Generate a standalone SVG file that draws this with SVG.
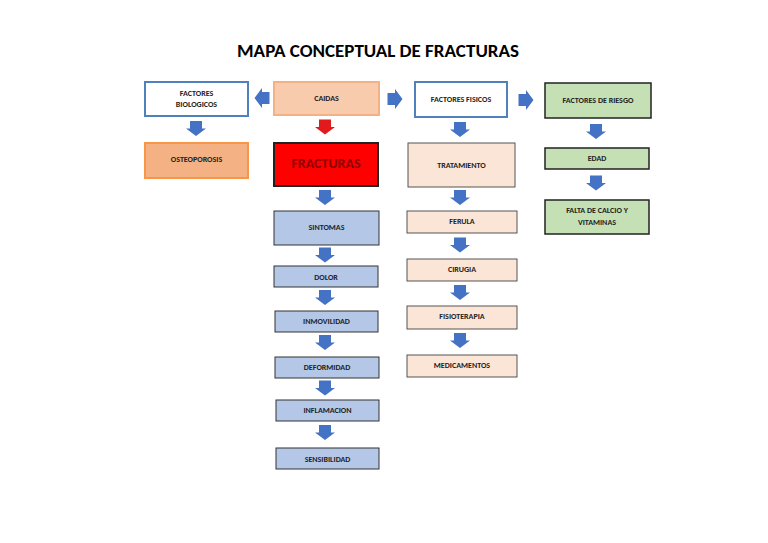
<svg xmlns="http://www.w3.org/2000/svg" xmlns:xlink="http://www.w3.org/1999/xlink" width="768" height="543" viewBox="0 0 768 543">
<style>
text{font-family:Calibri,"Liberation Sans",Arial,sans-serif;font-weight:bold;font-size:8px;fill:#222;text-anchor:middle;dominant-baseline:central}
.wb{fill:#fff;stroke:#4f81bd;stroke-width:2}
.pe{fill:#f8cbad;stroke:#f4b183;stroke-width:2}
.or{fill:#f4b183;stroke:#f79646;stroke-width:2}
.gr{fill:#c5e0b4;stroke:#222;stroke-width:1.5}
.lp{fill:#fbe5d6;stroke:#555;stroke-width:1}
.bl{fill:#b4c7e7;stroke:#333;stroke-width:1}
.rd{fill:#ff0000;stroke:#222;stroke-width:2}
.ar{fill:#4472c4}
</style>
<defs>
<path id="dn" d="M-6,-7.5H6V0H10L0,7.5L-10,0H-6Z"/>
</defs>
<rect width="768" height="543" fill="#fff"/>
<text x="378" y="50" style="font-size:19px;fill:#000">MAPA CONCEPTUAL DE FRACTURAS</text>
<g id="connectors" class="ar">
<use xlink:href="#dn" transform="translate(196,128.5)"/>
<use xlink:href="#dn" transform="translate(325,127)" fill="#e31a1c"/>
<use xlink:href="#dn" transform="translate(460,129.5)"/>
<use xlink:href="#dn" transform="translate(596,131.5)"/>
<use xlink:href="#dn" transform="translate(596,183)"/>
<use xlink:href="#dn" transform="translate(325,197.5)"/>
<use xlink:href="#dn" transform="translate(325,255)"/>
<use xlink:href="#dn" transform="translate(325,297.5)"/>
<use xlink:href="#dn" transform="translate(325,342.5)"/>
<use xlink:href="#dn" transform="translate(325,388)"/>
<use xlink:href="#dn" transform="translate(325,432.5)"/>
<use xlink:href="#dn" transform="translate(460,197.5)"/>
<use xlink:href="#dn" transform="translate(460,245)"/>
<use xlink:href="#dn" transform="translate(460,292.5)"/>
<use xlink:href="#dn" transform="translate(460,340.5)"/>
<use xlink:href="#dn" transform="translate(262,98) rotate(90)"/>
<use xlink:href="#dn" transform="translate(395,99) rotate(-90)"/>
<use xlink:href="#dn" transform="translate(526,100) rotate(-90)"/>
</g>
<g id="n-bio"><rect class="wb" x="145" y="82" width="103" height="34"/><text x="196.5" y="93">FACTORES</text><text x="196.5" y="104">BIOLOGICOS</text></g>
<g id="n-caidas"><rect class="pe" x="274" y="82" width="105" height="33"/><text x="326.5" y="98">CAIDAS</text></g>
<g id="n-fisicos"><rect class="wb" x="415" y="82" width="92" height="35"/><text x="461" y="99">FACTORES FISICOS</text></g>
<g id="n-riesgo"><rect class="gr" x="545" y="83" width="106" height="35"/><text x="598" y="100">FACTORES DE RIESGO</text></g>
<g id="n-osteo"><rect class="or" x="145" y="143" width="103" height="35"/><text x="196.5" y="159">OSTEOPOROSIS</text></g>
<g id="n-fracturas"><rect class="rd" x="274" y="143" width="104" height="43"/><text x="326" y="163" style="font-size:14px;fill:#8b0000">FRACTURAS</text></g>
<g id="n-trat"><rect class="lp" x="408" y="143" width="107" height="44"/><text x="461.5" y="165">TRATAMIENTO</text></g>
<g id="n-edad"><rect class="gr" x="545" y="148" width="104" height="21"/><text x="597" y="157.5">EDAD</text></g>
<g id="n-falta"><rect class="gr" x="545" y="200" width="104" height="34"/><text x="597" y="210">FALTA DE  CALCIO Y</text><text x="597" y="222">VITAMINAS</text></g>
<g id="n-sintomas"><rect class="bl" x="274" y="211" width="105" height="34"/><text x="326.5" y="227">SINTOMAS</text></g>
<g id="n-dolor"><rect class="bl" x="274" y="266" width="104" height="21"/><text x="326" y="276.5">DOLOR</text></g>
<g id="n-inmov"><rect class="bl" x="275" y="311" width="103" height="21"/><text x="326.5" y="321">INMOVILIDAD</text></g>
<g id="n-deform"><rect class="bl" x="275" y="357" width="104" height="21"/><text x="327" y="367">DEFORMIDAD</text></g>
<g id="n-inflam"><rect class="bl" x="276" y="400" width="103" height="21"/><text x="327.5" y="410">INFLAMACION</text></g>
<g id="n-sens"><rect class="bl" x="276" y="448" width="103" height="21"/><text x="327.5" y="458.5">SENSIBILIDAD</text></g>
<g id="n-ferula"><rect class="lp" x="407" y="211" width="110" height="22"/><text x="462" y="221">FERULA</text></g>
<g id="n-cirugia"><rect class="lp" x="407" y="259" width="110" height="22"/><text x="462" y="269">CIRUGIA</text></g>
<g id="n-fisio"><rect class="lp" x="407" y="306" width="110" height="23"/><text x="462" y="316">FISIOTERAPIA</text></g>
<g id="n-medic"><rect class="lp" x="407" y="355" width="110" height="22"/><text x="462" y="365">MEDICAMENTOS</text></g>
</svg>
